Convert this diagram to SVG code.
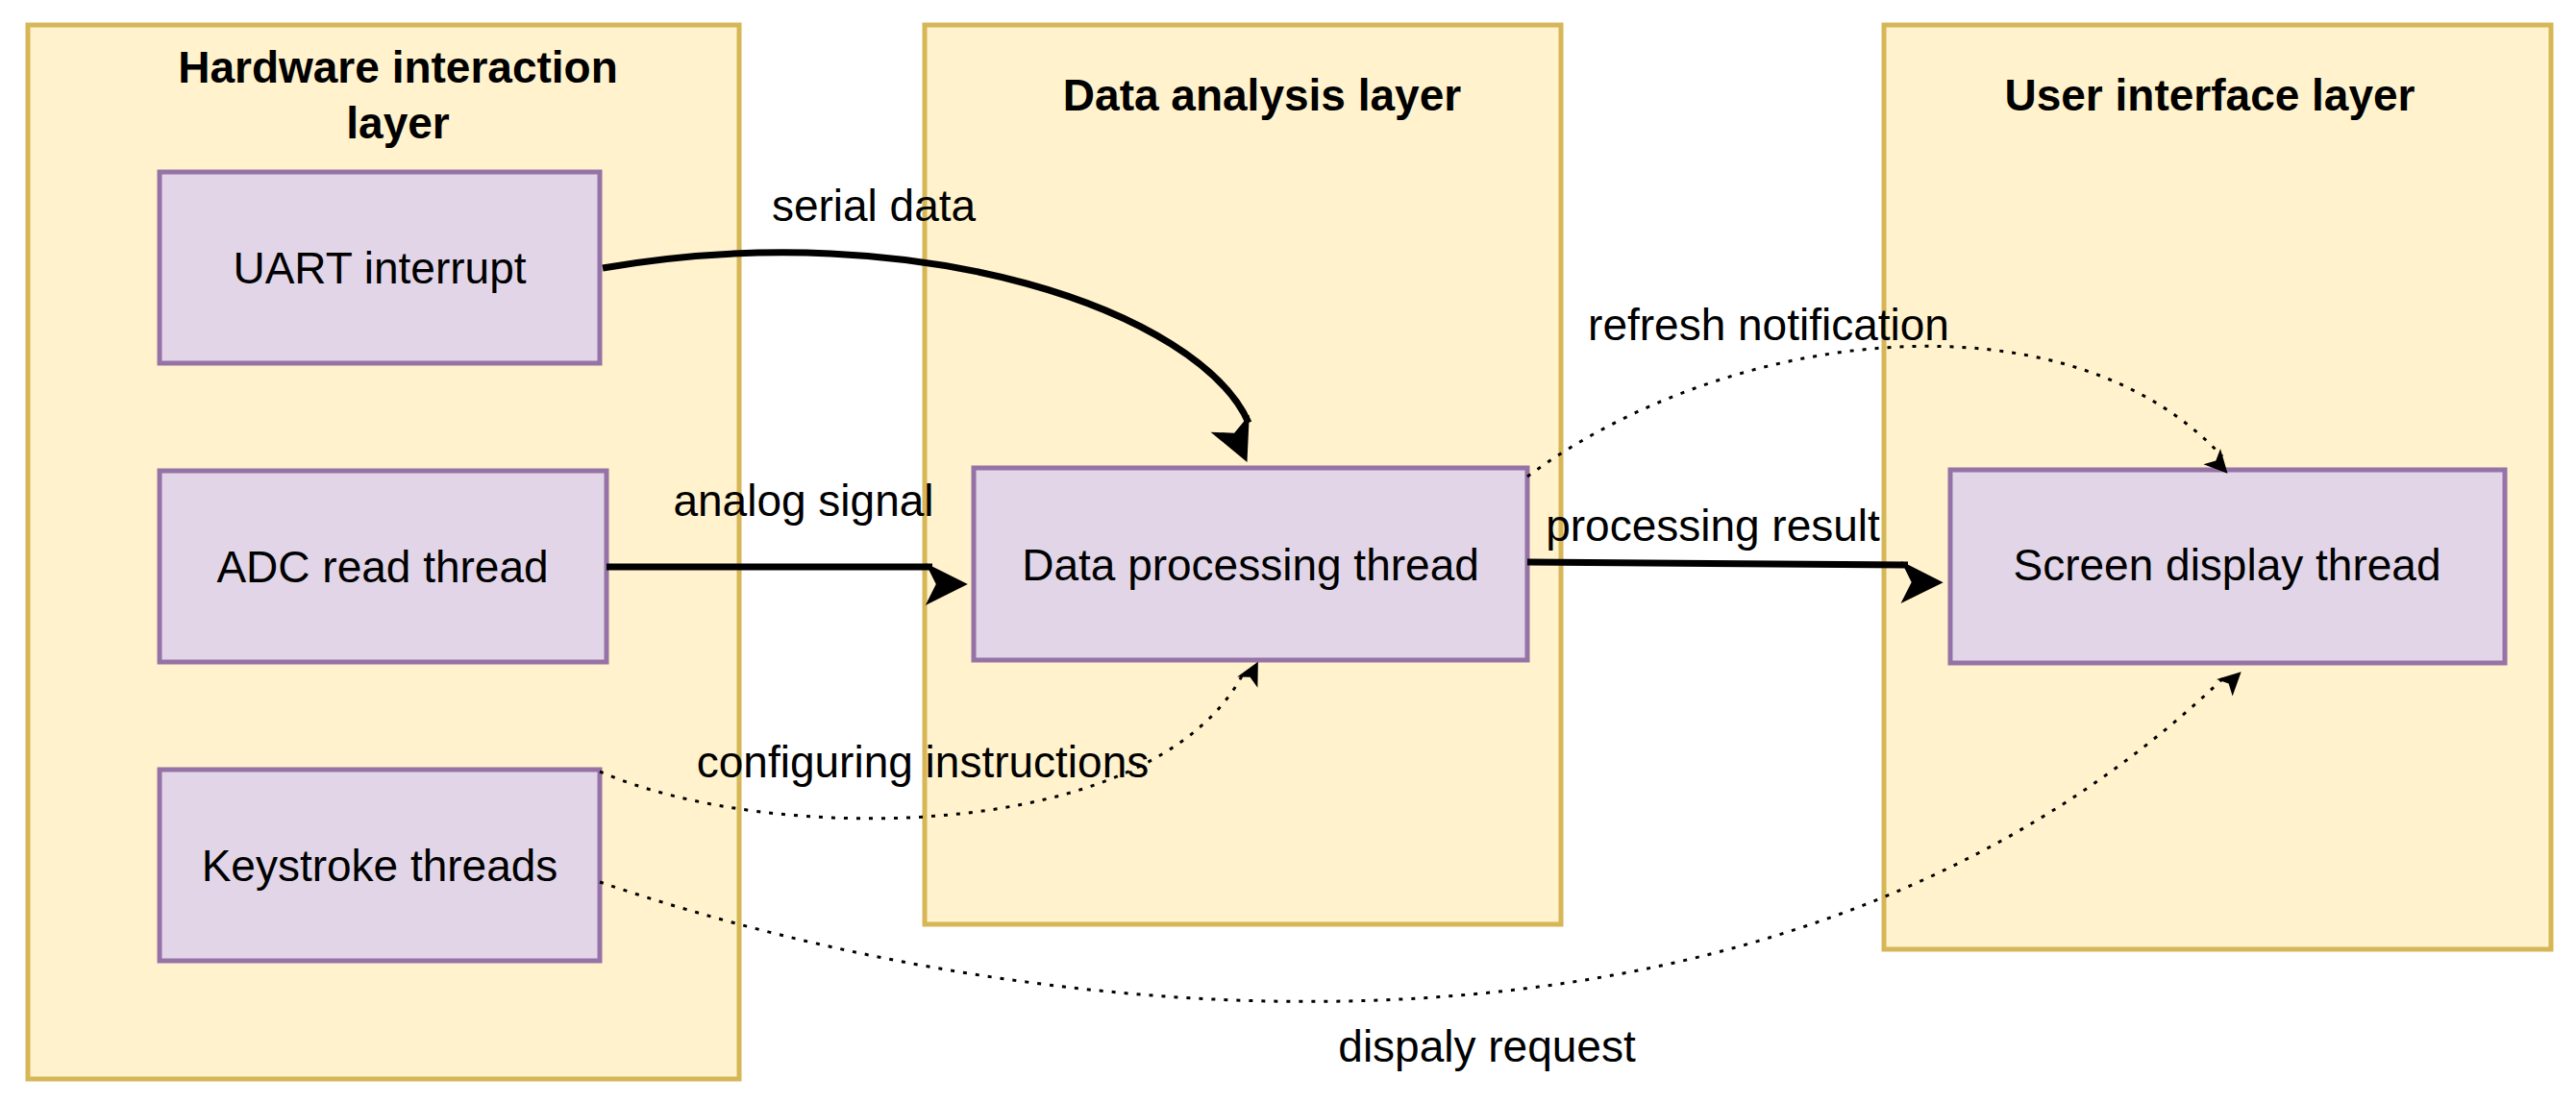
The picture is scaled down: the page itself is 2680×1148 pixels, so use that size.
<svg xmlns="http://www.w3.org/2000/svg" width="2680" height="1148" viewBox="0 0 2680 1148">
<style>
.layer{fill:#fff2cc;stroke:#d6b656;stroke-width:5}
.node{fill:#e1d5e7;stroke:#9673a6;stroke-width:5}
text{font-family:"Liberation Sans",Arial,sans-serif;font-size:46px;fill:#000;text-anchor:middle;dominant-baseline:central}
.title{font-weight:bold;font-size:46px}
.thick{fill:none;stroke:#000;stroke-width:7}
.dot{fill:none;stroke:#000;stroke-width:3;stroke-dasharray:4 9}
</style>
<defs>
<marker id="ab" viewBox="0 0 10 10" refX="9" refY="5" markerWidth="8" markerHeight="8" markerUnits="userSpaceOnUse" orient="auto" style="overflow:visible">
<path d="M0,0 L10,5 L0,10 L2.5,5 Z" fill="#000" transform="scale(5.5)"/>
</marker>
<marker id="as" viewBox="0 0 10 10" refX="9" refY="5" markerWidth="8" markerHeight="8" markerUnits="userSpaceOnUse" orient="auto" style="overflow:visible">
<path d="M0,0 L10,5 L0,10 L2.5,5 Z" fill="#000" transform="scale(3)"/>
</marker>
</defs>
<g id="layer-hw"><rect class="layer" x="29" y="26" width="740" height="1097"/><text class="title" x="414" y="70">Hardware interaction</text><text class="title" x="414" y="128">layer</text></g>
<g id="layer-data"><rect class="layer" x="962" y="26" width="662" height="936"/><text class="title" x="1313" y="99">Data analysis layer</text></g>
<g id="layer-ui"><rect class="layer" x="1960" y="26" width="694" height="962"/><text class="title" x="2299" y="99">User interface layer</text></g>
<g id="uart"><rect class="node" x="166" y="179" width="458" height="199"/><text x="395" y="279">UART interrupt</text></g>
<g id="adc"><rect class="node" x="166" y="490" width="465" height="199"/><text x="398" y="590">ADC read thread</text></g>
<g id="key"><rect class="node" x="166" y="801" width="458" height="199"/><text x="395" y="901">Keystroke threads</text></g>
<g id="proc"><rect class="node" x="1013" y="487" width="576" height="200"/><text x="1301" y="588">Data processing thread</text></g>
<g id="screen"><rect class="node" x="2029" y="489" width="577" height="201"/><text x="2317" y="588">Screen display thread</text></g>
<g id="connectors">
<path class="thick" d="M627,279 C957,222 1248,325 1299,440" marker-end="url(#ab)"/>
<path class="thick" d="M631,590 L970,590" marker-end="url(#ab)"/>
<path class="thick" d="M1589,585 L1985,588" marker-end="url(#ab)"/>
<path class="dot" d="M1589,496 C1800,340 2150,300 2312,475" marker-end="url(#as)"/>
<path class="dot" d="M624,803 C800,880 1200,880 1294,700" marker-end="url(#as)"/>
<path class="dot" d="M624,918 C1100,1080 1850,1150 2314,705" marker-end="url(#as)"/>
<text x="909" y="214">serial data</text>
<text x="836" y="521">analog signal</text>
<text x="1782" y="547">processing result</text>
<text x="1840" y="338">refresh notification</text>
<text x="960" y="793">configuring instructions</text>
<text x="1547" y="1089">dispaly request</text>
</g>
</svg>
